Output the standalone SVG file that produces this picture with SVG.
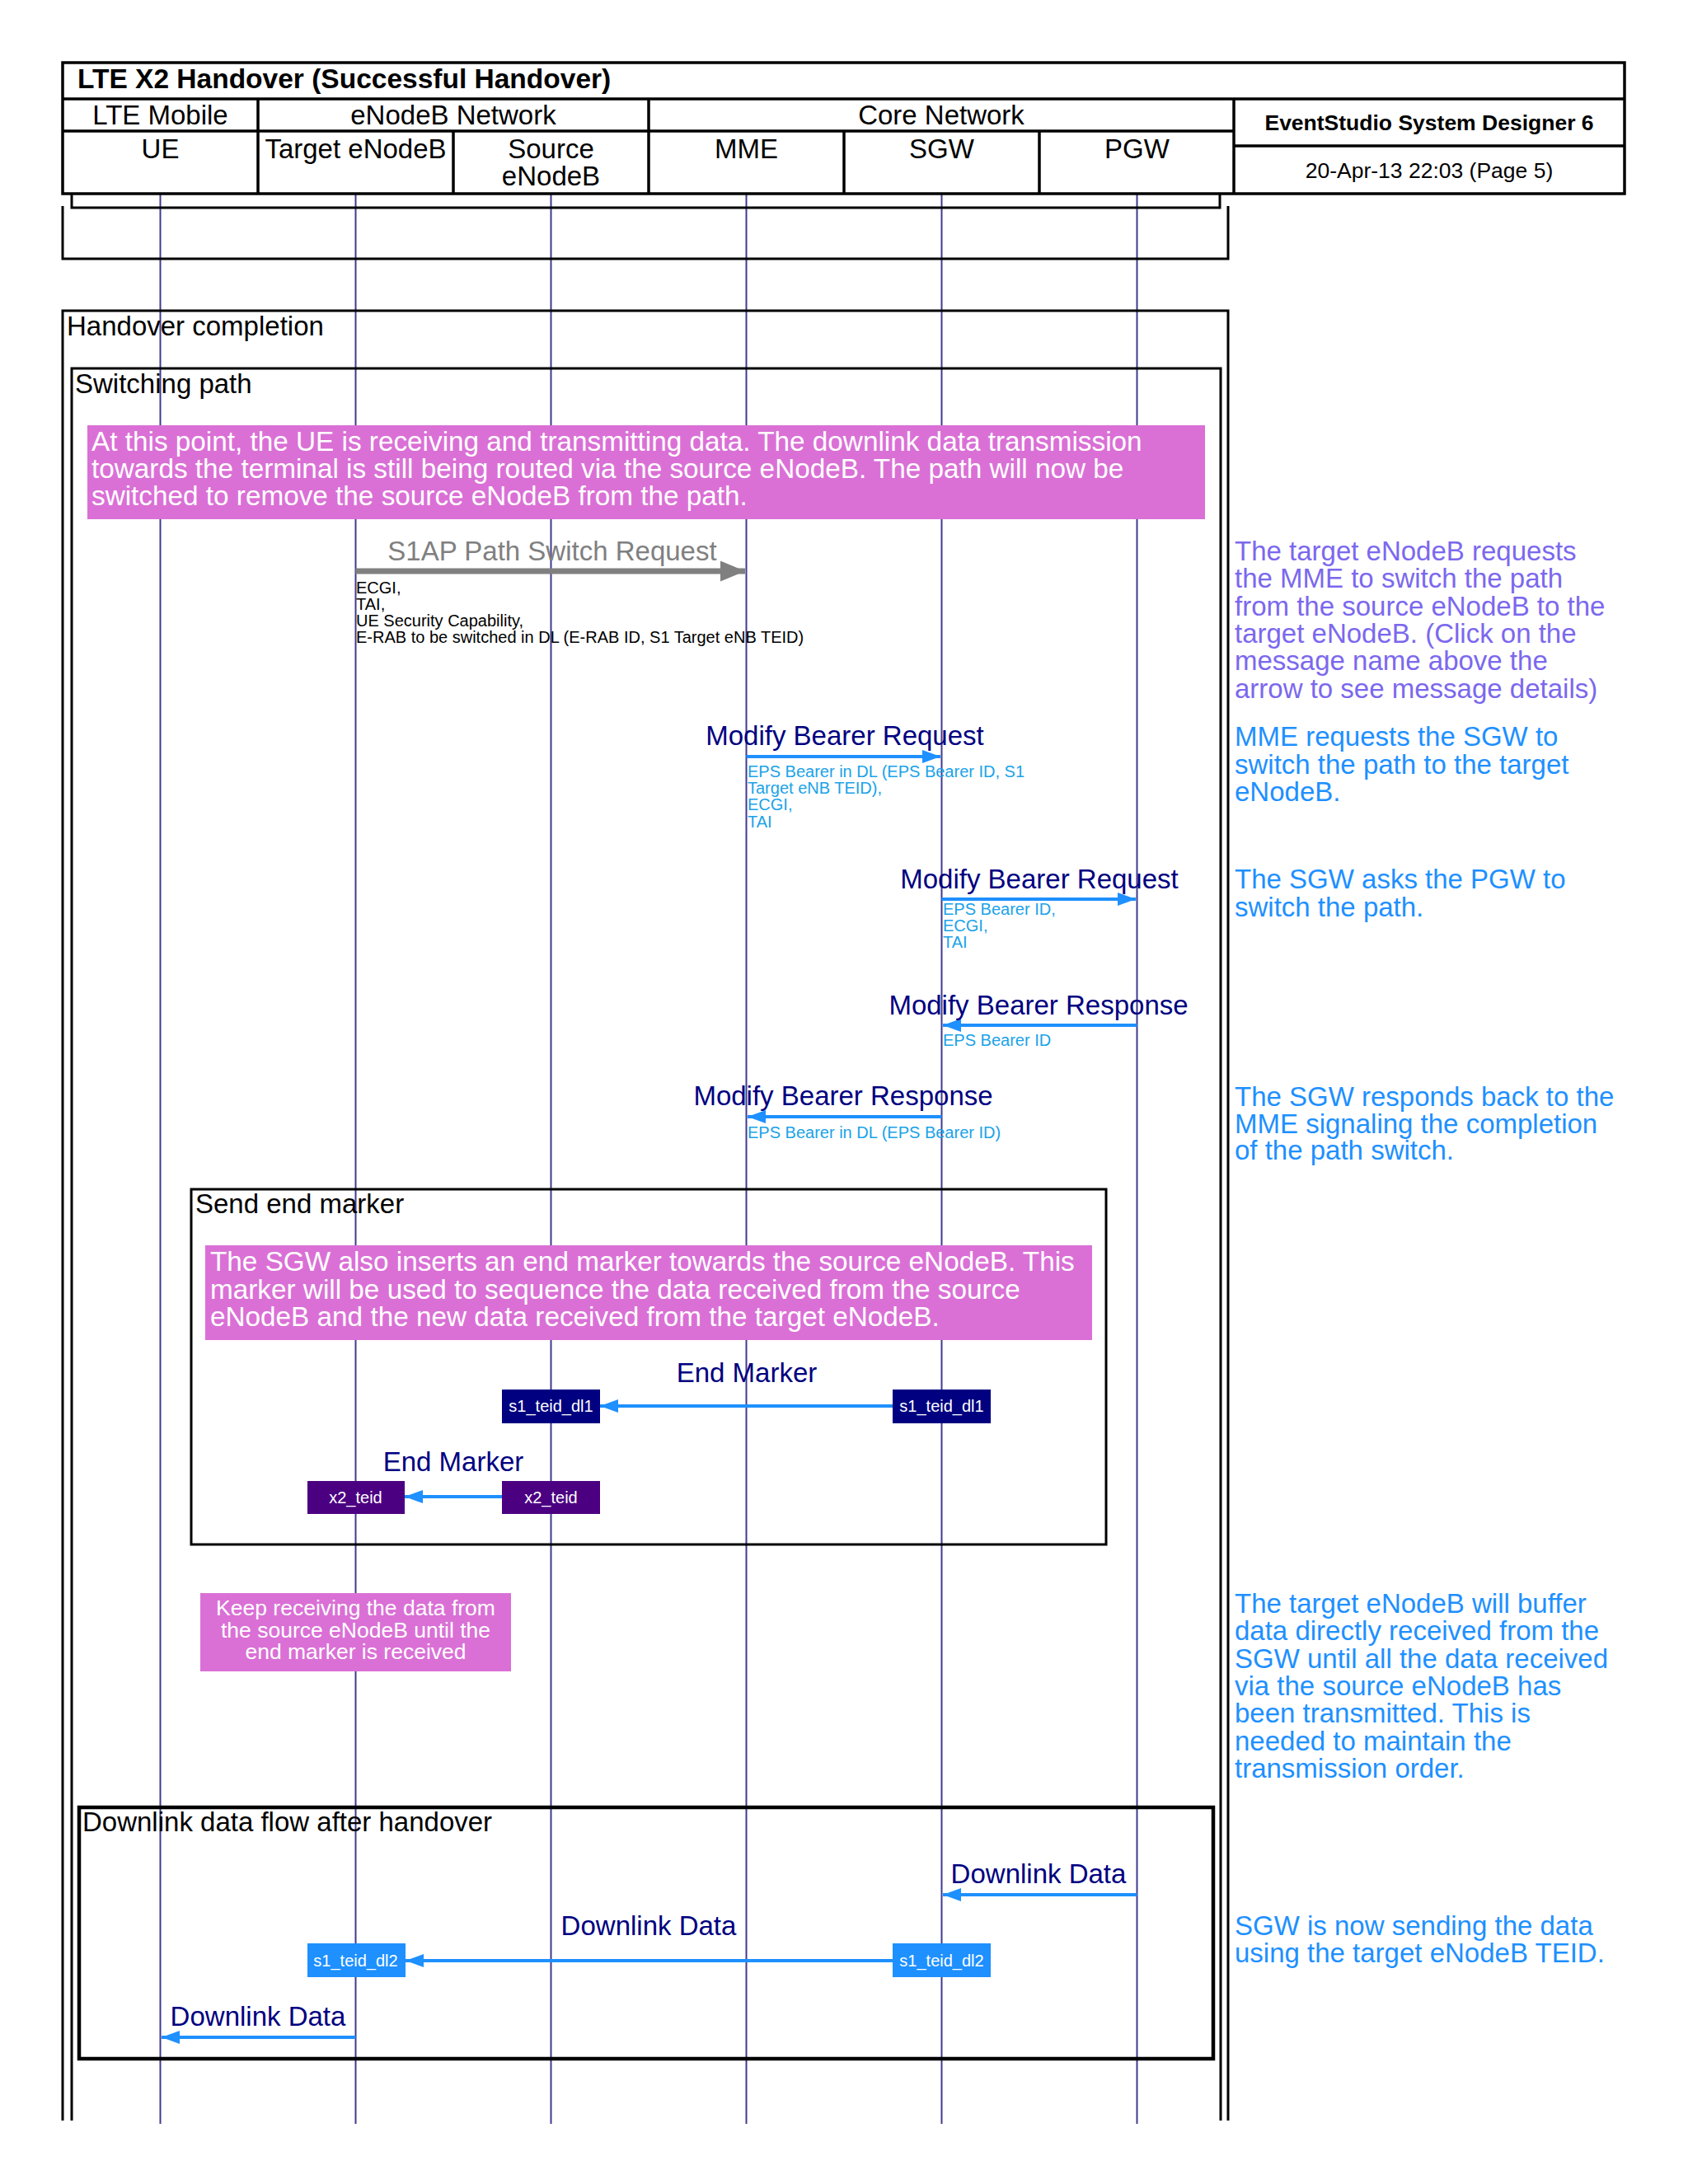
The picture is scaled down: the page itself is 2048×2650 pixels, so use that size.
<svg xmlns="http://www.w3.org/2000/svg" width="2048" height="2650" viewBox="0 0 2048 2650">
<style>
text{font-family:"Liberation Sans",Arial,sans-serif}
.hdr{font-size:33px;fill:#000;text-anchor:middle}
.frame{fill:none;stroke:#000;stroke-width:3}
.life{stroke:#3f3a8f;stroke-width:2}
.note{fill:#da70d6}
.nt{font-size:33.3px;fill:#fff}
.ft{font-size:33px;fill:#000}
.lbl{font-size:33px;fill:#000080;text-anchor:middle}
.par{font-size:20px;fill:#1aa3e8}
.cm{font-size:33px;fill:#1e90ff}
.msg{stroke:#1e90ff;stroke-width:4}
.bt{font-size:20px;fill:#fff;text-anchor:middle}
</style>
<defs>
<marker id="ab" markerUnits="userSpaceOnUse" markerWidth="22" markerHeight="16" refX="22" refY="8" orient="auto"><path d="M0,0 L22,8 L0,16 z" fill="#1e90ff"/></marker>
<marker id="ag" markerUnits="userSpaceOnUse" markerWidth="30" markerHeight="25" refX="30" refY="12.5" orient="auto"><path d="M0,0 L30,12.5 L0,25 z" fill="#808080"/></marker>
</defs>
<rect width="2048" height="2650" fill="#fff"/>

<g id="lifelines">
<line class="life" x1="194.5" y1="235" x2="194.5" y2="2577"/>
<line class="life" x1="431.5" y1="235" x2="431.5" y2="2577"/>
<line class="life" x1="668.5" y1="235" x2="668.5" y2="2577"/>
<line class="life" x1="905.5" y1="235" x2="905.5" y2="2577"/>
<line class="life" x1="1142.5" y1="235" x2="1142.5" y2="2577"/>
<line class="life" x1="1379.5" y1="235" x2="1379.5" y2="2577"/>
</g>

<g id="header">
<rect x="76" y="76" width="1895" height="159" fill="none" stroke="#000" stroke-width="3.5"/>
<line x1="76" y1="120" x2="1971" y2="120" stroke="#000" stroke-width="3.5"/>
<line x1="76" y1="159" x2="1497" y2="159" stroke="#000" stroke-width="3.5"/>
<line x1="1497" y1="177" x2="1971" y2="177" stroke="#000" stroke-width="3.5"/>
<line x1="313" y1="120" x2="313" y2="235" stroke="#000" stroke-width="3.5"/>
<line x1="787" y1="120" x2="787" y2="235" stroke="#000" stroke-width="3.5"/>
<line x1="1497" y1="120" x2="1497" y2="235" stroke="#000" stroke-width="3.5"/>
<line x1="550" y1="159" x2="550" y2="235" stroke="#000" stroke-width="3.5"/>
<line x1="1024" y1="159" x2="1024" y2="235" stroke="#000" stroke-width="3.5"/>
<line x1="1261" y1="159" x2="1261" y2="235" stroke="#000" stroke-width="3.5"/>
<text x="94" y="107" font-size="33.5" font-weight="bold" fill="#000">LTE X2 Handover (Successful Handover)</text>
<text class="hdr" x="194.5" y="151">LTE Mobile</text>
<text class="hdr" x="550" y="151">eNodeB Network</text>
<text class="hdr" x="1142" y="151">Core Network</text>
<text class="hdr" x="194.5" y="192">UE</text>
<text class="hdr" x="431.5" y="192">Target eNodeB</text>
<text class="hdr" x="668.5" y="192">Source</text>
<text class="hdr" x="668.5" y="225">eNodeB</text>
<text class="hdr" x="905.5" y="192">MME</text>
<text class="hdr" x="1142.5" y="192">SGW</text>
<text class="hdr" x="1379.5" y="192">PGW</text>
<text x="1734" y="158" font-size="26.5" font-weight="bold" fill="#000" text-anchor="middle">EventStudio System Designer 6</text>
<text x="1734" y="216" font-size="26.5" fill="#000" text-anchor="middle">20-Apr-13 22:03 (Page 5)</text>
</g>

<g id="prev-frames">
<path class="frame" d="M87,235 V252 H1480 V235"/>
<path class="frame" d="M76,250 V314 H1490 V250"/>
</g>

<g id="frame-handover-completion">
<path class="frame" d="M76,2573 V377 H1490 V2573"/>
<text class="ft" x="81" y="407">Handover completion</text>
</g>
<g id="frame-switching-path">
<path class="frame" d="M87,2573 V447 H1481 V2573"/>
<text class="ft" x="91" y="477">Switching path</text>
</g>

<g id="note-1">
<rect class="note" x="106" y="516" width="1356" height="114"/>
<text class="nt" x="111" y="547">At this point, the UE is receiving and transmitting data. The downlink data transmission</text>
<text class="nt" x="111" y="580">towards the terminal is still being routed via the source eNodeB. The path will now be</text>
<text class="nt" x="111" y="613">switched to remove the source eNodeB from the path.</text>
</g>

<g id="frame-send-end-marker">
<rect class="frame" x="232" y="1443" width="1110" height="431"/>
<text class="ft" x="237" y="1472">Send end marker</text>
</g>
<g id="note-2">
<rect class="note" x="249" y="1511" width="1076" height="115"/>
<text class="nt" x="255" y="1542">The SGW also inserts an end marker towards the source eNodeB. This</text>
<text class="nt" x="255" y="1576">marker will be used to sequence the data received from the source</text>
<text class="nt" x="255" y="1609">eNodeB and the new data received from the target eNodeB.</text>
</g>

<g id="note-3">
<rect class="note" x="243" y="1933" width="377" height="95"/>
<text x="431.5" y="1960" font-size="26.5" fill="#fff" text-anchor="middle">Keep receiving the data from</text>
<text x="431.5" y="1987" font-size="26.5" fill="#fff" text-anchor="middle">the source eNodeB until the</text>
<text x="431.5" y="2013" font-size="26.5" fill="#fff" text-anchor="middle">end marker is received</text>
</g>

<g id="frame-downlink">
<rect x="96" y="2193" width="1376" height="305" fill="none" stroke="#000" stroke-width="4.5"/>
<text class="ft" x="100" y="2222">Downlink data flow after handover</text>
</g>

<g id="connectors">
<line x1="431.5" y1="693" x2="904" y2="693" stroke="#808080" stroke-width="7" marker-end="url(#ag)"/>
<text x="670" y="680" font-size="33" fill="#808080" text-anchor="middle">S1AP Path Switch Request</text>
<text x="432" y="720" font-size="20" fill="#000">ECGI,</text>
<text x="432" y="740" font-size="20" fill="#000">TAI,</text>
<text x="432" y="760" font-size="20" fill="#000">UE Security Capability,</text>
<text x="432" y="780" font-size="20" fill="#000">E-RAB to be switched in DL (E-RAB ID, S1 Target eNB TEID)</text>

<line class="msg" x1="905.5" y1="918" x2="1141" y2="918" marker-end="url(#ab)"/>
<text class="lbl" x="1025" y="904">Modify Bearer Request</text>
<text class="par" x="907" y="943">EPS Bearer in DL (EPS Bearer ID, S1</text>
<text class="par" x="907" y="963">Target eNB TEID),</text>
<text class="par" x="907" y="983">ECGI,</text>
<text class="par" x="907" y="1004">TAI</text>

<line class="msg" x1="1142.5" y1="1091" x2="1378" y2="1091" marker-end="url(#ab)"/>
<text class="lbl" x="1261" y="1078">Modify Bearer Request</text>
<text class="par" x="1144" y="1110">EPS Bearer ID,</text>
<text class="par" x="1144" y="1130">ECGI,</text>
<text class="par" x="1144" y="1150">TAI</text>

<line class="msg" x1="1379.5" y1="1244" x2="1144" y2="1244" marker-end="url(#ab)"/>
<text class="lbl" x="1260" y="1231">Modify Bearer Response</text>
<text class="par" x="1144" y="1269">EPS Bearer ID</text>

<line class="msg" x1="1142.5" y1="1355" x2="907" y2="1355" marker-end="url(#ab)"/>
<text class="lbl" x="1023" y="1341">Modify Bearer Response</text>
<text class="par" x="907" y="1381">EPS Bearer in DL (EPS Bearer ID)</text>

<line class="msg" x1="1083" y1="1706" x2="728" y2="1706" marker-end="url(#ab)"/>
<text class="lbl" x="906" y="1677">End Marker</text>
<line class="msg" x1="609" y1="1816" x2="491" y2="1816" marker-end="url(#ab)"/>
<text class="lbl" x="550" y="1785">End Marker</text>

<line class="msg" x1="1379.5" y1="2299" x2="1144" y2="2299" marker-end="url(#ab)"/>
<text class="lbl" x="1260" y="2285">Downlink Data</text>
<line class="msg" x1="1083" y1="2379" x2="492" y2="2379" marker-end="url(#ab)"/>
<text class="lbl" x="787" y="2348">Downlink Data</text>
<line class="msg" x1="431.5" y1="2472" x2="196" y2="2472" marker-end="url(#ab)"/>
<text class="lbl" x="313" y="2458">Downlink Data</text>
</g>

<g id="tokens">
<rect x="609" y="1686" width="119" height="41" fill="#000080"/>
<text class="bt" x="668.5" y="1713">s1_teid_dl1</text>
<rect x="1083" y="1686" width="119" height="41" fill="#000080"/>
<text class="bt" x="1142.5" y="1713">s1_teid_dl1</text>
<rect x="373" y="1797" width="118" height="40" fill="#4b0082"/>
<text class="bt" x="431.5" y="1824">x2_teid</text>
<rect x="609" y="1797" width="119" height="40" fill="#4b0082"/>
<text class="bt" x="668.5" y="1824">x2_teid</text>
<rect x="373" y="2358" width="119" height="41" fill="#1e90ff"/>
<text class="bt" x="431.5" y="2386">s1_teid_dl2</text>
<rect x="1083" y="2358" width="119" height="41" fill="#1e90ff"/>
<text class="bt" x="1142.5" y="2386">s1_teid_dl2</text>
</g>

<g id="comments">
<text x="1498" y="680" font-size="33" fill="#7b68ee"><tspan x="1498">The target eNodeB requests</tspan><tspan x="1498" dy="33.3">the MME to switch the path</tspan><tspan x="1498" dy="33.3">from the source eNodeB to the</tspan><tspan x="1498" dy="33.3">target eNodeB. (Click on the</tspan><tspan x="1498" dy="33.3">message name above the</tspan><tspan x="1498" dy="33.3">arrow to see message details)</tspan></text>
<text class="cm" x="1498" y="905"><tspan x="1498">MME requests the SGW to</tspan><tspan x="1498" dy="33.5">switch the path to the target</tspan><tspan x="1498" dy="33.5">eNodeB.</tspan></text>
<text class="cm" x="1498" y="1078"><tspan x="1498">The SGW asks the PGW to</tspan><tspan x="1498" dy="33.5">switch the path.</tspan></text>
<text class="cm" x="1498" y="1342"><tspan x="1498">The SGW responds back to the</tspan><tspan x="1498" dy="32.5">MME signaling the completion</tspan><tspan x="1498" dy="32.5">of the path switch.</tspan></text>
<text class="cm" x="1498" y="1957"><tspan x="1498">The target eNodeB will buffer</tspan><tspan x="1498" dy="33.3">data directly received from the</tspan><tspan x="1498" dy="33.3">SGW until all the data received</tspan><tspan x="1498" dy="33.3">via the source eNodeB has</tspan><tspan x="1498" dy="33.3">been transmitted. This is</tspan><tspan x="1498" dy="33.3">needed to maintain the</tspan><tspan x="1498" dy="33.3">transmission order.</tspan></text>
<text class="cm" x="1498" y="2348"><tspan x="1498">SGW is now sending the data</tspan><tspan x="1498" dy="33">using the target eNodeB TEID.</tspan></text>
</g>
</svg>
